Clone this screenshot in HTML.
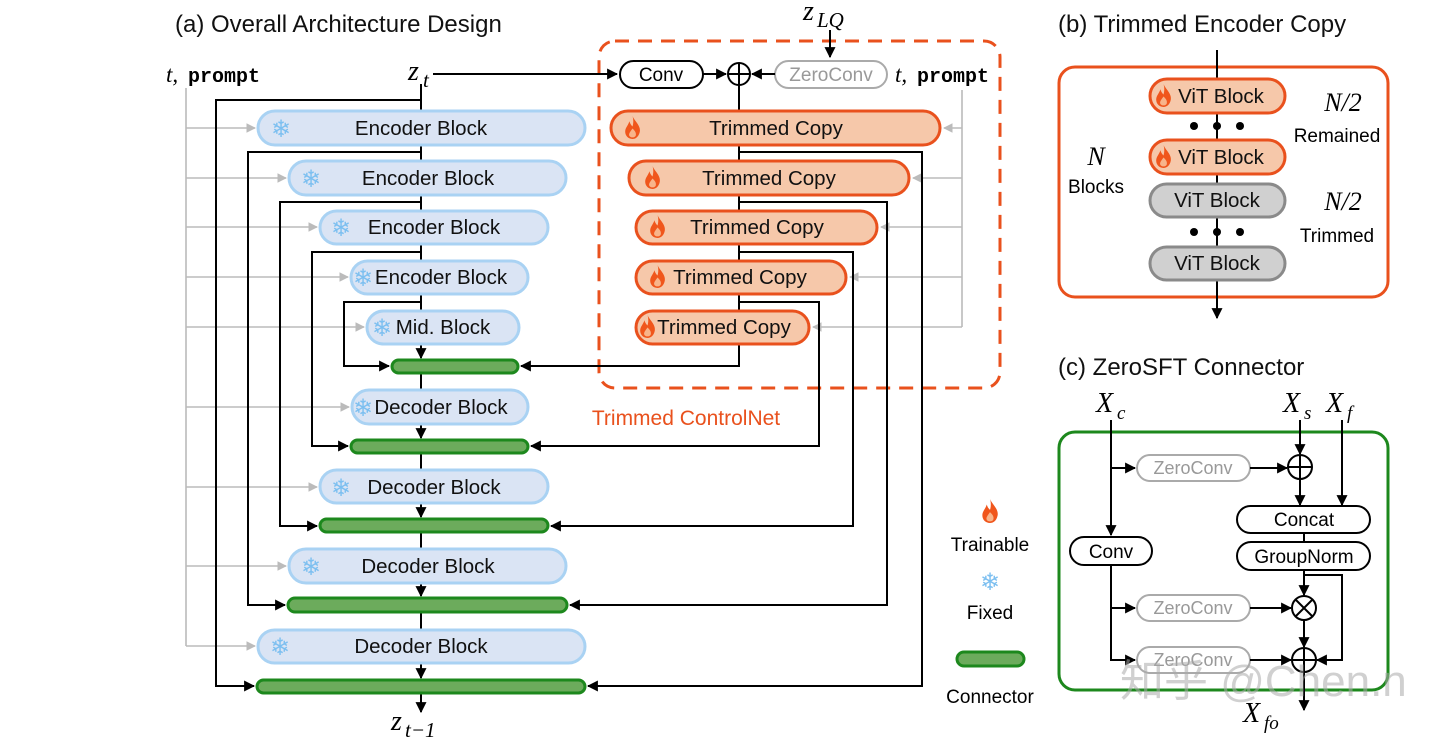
<!DOCTYPE html>
<html><head><meta charset="utf-8"><style>
html,body{margin:0;padding:0;background:#fff;}
svg{display:block;}
text{font-family:"Liberation Sans",sans-serif;}
.m{font-family:"Liberation Serif",serif;font-style:italic;}
.mono{font-family:"Liberation Mono",monospace;font-weight:bold;}
.enc{fill:#dae4f4;stroke:#a9d2f3;stroke-width:3;}
.tr{fill:#f6c8aa;stroke:#e9511d;stroke-width:3;}
.cn{fill:#6cab5c;stroke:#1d881d;stroke-width:3;}
.bk{fill:none;stroke:#000;stroke-width:2;}
.gy{fill:none;stroke:#bbb;stroke-width:1.6;}
.lbl{font-size:20.5px;fill:#111;text-anchor:middle;}
.sn{font-size:24px;fill:#7cbff0;text-anchor:middle;}
</style></head><body>
<svg width="1440" height="738" viewBox="0 0 1440 738" xmlns="http://www.w3.org/2000/svg">
<defs>
<marker id="a" viewBox="0 0 10 10" refX="9" refY="5" markerWidth="5.5" markerHeight="5.5" orient="auto"><path d="M0,0L10,5L0,10z" fill="#000"/></marker>
<marker id="g" viewBox="0 0 10 10" refX="9" refY="5" markerWidth="6" markerHeight="6" orient="auto"><path d="M0,0L10,5L0,10z" fill="#bbb"/></marker>
<symbol id="fl" viewBox="0 0 16 22"><path d="M8,0C10,5 16,9 15,15C14,20 11,22 8,22C4,22 1,19 1,15C1,11 4,9 5,5C6,8 7,9 8,10C9,7 9,3 8,0Z" fill="#f0561c"/><path d="M8,12C10,14 12,16 11,19C10,21 6,21 5,19C4,17 6,15 8,12Z" fill="#f8b48a"/></symbol>
</defs>

<text x="175" y="32" font-size="24" fill="#111">(a) Overall Architecture Design</text>
<text x="1058" y="32" font-size="24" fill="#111">(b) Trimmed Encoder Copy</text>
<text x="1058" y="375" font-size="24" fill="#111">(c) ZeroSFT Connector</text>

<rect x="599" y="41" width="401" height="347" rx="16" fill="none" stroke="#e9511d" stroke-width="3" stroke-dasharray="14,9"/>
<text x="686" y="425" font-size="21" fill="#e9511d" text-anchor="middle">Trimmed ControlNet</text>

<path class="gy" d="M186,88V646"/>
<g class="gy" marker-end="url(#g)">
<path d="M186,128H255"/><path d="M186,178H286"/><path d="M186,227H317"/><path d="M186,277H348"/><path d="M186,327H364"/>
<path d="M186,407H349"/><path d="M186,487H317"/><path d="M186,566H286"/><path d="M186,646H255"/>
</g>
<path class="gy" d="M962,90V327"/>
<g class="gy" marker-end="url(#g)">
<path d="M962,128H944"/><path d="M962,178H913"/><path d="M962,227H881"/><path d="M962,277H850"/><path d="M962,327H813"/>
</g>

<g class="bk" marker-end="url(#a)">
<path d="M421,100H216V686H254"/>
<path d="M421,152H248V605H285"/>
<path d="M421,202H280V526H317"/>
<path d="M421,252H312V446H348"/>
<path d="M421,302H344V366H389"/>
</g>
<g class="bk" marker-end="url(#a)">
<path d="M739,152H922V686H588"/>
<path d="M739,202H887V605H570"/>
<path d="M739,252H853V526H551"/>
<path d="M739,302H819V446H531"/>
<path d="M739,344V366H521"/>
</g>
<path class="bk" d="M739,84V311"/>

<path class="bk" d="M421,84V345"/>
<path class="bk" d="M421,345V358" marker-end="url(#a)"/>
<path class="bk" d="M421,373V390"/>
<path class="bk" d="M421,424V438" marker-end="url(#a)"/>
<path class="bk" d="M421,453V470"/>
<path class="bk" d="M421,503V517" marker-end="url(#a)"/>
<path class="bk" d="M421,532V549"/>
<path class="bk" d="M421,583V596" marker-end="url(#a)"/>
<path class="bk" d="M421,612V630"/>
<path class="bk" d="M421,663V678" marker-end="url(#a)"/>
<path class="bk" d="M421,693V712" marker-end="url(#a)"/>

<text x="408" y="80" font-size="28" class="m">z</text><text x="423" y="87" font-size="21" class="m">t</text>
<path class="bk" d="M433,74H617" marker-end="url(#a)"/>
<text x="391" y="730" font-size="28" class="m">z</text><text x="405" y="737" font-size="21" class="m">t−1</text>
<text x="166" y="82" font-size="23" class="m">t,</text><text x="188" y="82" font-size="20" class="mono">prompt</text>
<text x="895" y="82" font-size="23" class="m">t,</text><text x="917" y="82" font-size="20" class="mono">prompt</text>
<text x="803" y="20" font-size="28" class="m">z</text><text x="817" y="27" font-size="21" class="m">LQ</text>
<path class="bk" d="M830,30V57" marker-end="url(#a)"/>

<rect x="620" y="61" width="83" height="27" rx="13.5" fill="#fff" stroke="#000" stroke-width="2"/>
<text x="661" y="81" font-size="19" text-anchor="middle">Conv</text>
<path class="bk" d="M703,74H726" marker-end="url(#a)"/>
<circle cx="739" cy="74" r="11" fill="#fff" stroke="#000" stroke-width="2"/>
<path class="bk" d="M728,74H750M739,63V85"/>
<rect x="775" y="61" width="112" height="27" rx="13.5" fill="#fff" stroke="#aaa" stroke-width="2"/>
<text x="831" y="81" font-size="19" fill="#999" text-anchor="middle">ZeroConv</text>
<path class="bk" d="M775,74H752" marker-end="url(#a)"/>

<rect class="enc" x="258" y="111" width="327" height="34" rx="17"/><text class="sn" x="281" y="137">❄</text><text class="lbl" x="421" y="135">Encoder Block</text>
<rect class="enc" x="289" y="161" width="277" height="34" rx="17"/><text class="sn" x="311" y="187">❄</text><text class="lbl" x="428" y="185">Encoder Block</text>
<rect class="enc" x="320" y="211" width="228" height="33" rx="16.5"/><text class="sn" x="341" y="236">❄</text><text class="lbl" x="434" y="234">Encoder Block</text>
<rect class="enc" x="351" y="261" width="177" height="33" rx="16.5"/><text class="sn" x="363" y="286">❄</text><text class="lbl" x="441" y="284">Encoder Block</text>
<rect class="enc" x="367" y="311" width="152" height="33" rx="16.5"/><text class="sn" x="382" y="336">❄</text><text class="lbl" x="443" y="334">Mid. Block</text>
<rect class="enc" x="352" y="390" width="176" height="34" rx="17"/><text class="sn" x="363" y="416">❄</text><text class="lbl" x="441" y="414">Decoder Block</text>
<rect class="enc" x="320" y="470" width="228" height="33" rx="16.5"/><text class="sn" x="341" y="496">❄</text><text class="lbl" x="434" y="494">Decoder Block</text>
<rect class="enc" x="289" y="549" width="277" height="34" rx="17"/><text class="sn" x="311" y="575">❄</text><text class="lbl" x="428" y="573">Decoder Block</text>
<rect class="enc" x="258" y="630" width="327" height="33" rx="16.5"/><text class="sn" x="280" y="655">❄</text><text class="lbl" x="421" y="653">Decoder Block</text>
<rect class="cn" x="392" y="360" width="126" height="13" rx="6.5"/>
<rect class="cn" x="351" y="440" width="177" height="13" rx="6.5"/>
<rect class="cn" x="320" y="519" width="228" height="13" rx="6.5"/>
<rect class="cn" x="288" y="598" width="279" height="14" rx="7"/>
<rect class="cn" x="257" y="680" width="328" height="13" rx="6.5"/>

<rect class="tr" x="611" y="111" width="329" height="34" rx="17"/><use href="#fl" x="624" y="116" width="17" height="23"/><text class="lbl" x="776" y="135">Trimmed Copy</text>
<rect class="tr" x="629" y="161" width="280" height="34" rx="17"/><use href="#fl" x="644" y="166" width="17" height="23"/><text class="lbl" x="769" y="185">Trimmed Copy</text>
<rect class="tr" x="636" y="211" width="241" height="33" rx="16.5"/><use href="#fl" x="649" y="215" width="17" height="23"/><text class="lbl" x="757" y="234">Trimmed Copy</text>
<rect class="tr" x="636" y="261" width="210" height="33" rx="16.5"/><use href="#fl" x="649" y="265" width="17" height="23"/><text class="lbl" x="740" y="284">Trimmed Copy</text>
<rect class="tr" x="636" y="311" width="173" height="33" rx="16.5"/><use href="#fl" x="639" y="315" width="17" height="23"/><text class="lbl" x="724" y="334">Trimmed Copy</text>

<use href="#fl" x="981" y="499" width="18" height="24"/>
<text x="990" y="551" font-size="19" text-anchor="middle">Trainable</text>
<text class="sn" x="990" y="590">❄</text>
<text x="990" y="619" font-size="19" text-anchor="middle">Fixed</text>
<rect class="cn" x="957" y="652" width="67" height="14" rx="7"/>
<text x="990" y="703" font-size="19" text-anchor="middle">Connector</text>

<rect x="1059" y="67" width="329" height="230" rx="16" fill="none" stroke="#e9511d" stroke-width="3"/>
<path class="bk" d="M1217,50V318" marker-end="url(#a)"/>
<rect class="tr" x="1150" y="79" width="135" height="34" rx="17"/><use href="#fl" x="1155" y="84" width="17" height="23"/><text class="lbl" x="1221" y="103">ViT Block</text>
<rect class="tr" x="1150" y="140" width="135" height="34" rx="17"/><use href="#fl" x="1155" y="145" width="17" height="23"/><text class="lbl" x="1221" y="164">ViT Block</text>
<rect x="1150" y="184" width="135" height="33" rx="16.5" fill="#d0d0d0" stroke="#8a8a8a" stroke-width="3"/><text class="lbl" x="1217" y="207">ViT Block</text>
<rect x="1150" y="247" width="135" height="33" rx="16.5" fill="#d0d0d0" stroke="#8a8a8a" stroke-width="3"/><text class="lbl" x="1217" y="270">ViT Block</text>
<g fill="#000"><circle cx="1194" cy="126" r="4"/><circle cx="1217" cy="126" r="4"/><circle cx="1240" cy="126" r="4"/>
<circle cx="1194" cy="232" r="4"/><circle cx="1217" cy="232" r="4"/><circle cx="1240" cy="232" r="4"/></g>
<text x="1343" y="111" font-size="26" class="m" text-anchor="middle">N/2</text>
<text x="1337" y="142" font-size="19" text-anchor="middle">Remained</text>
<text x="1096" y="165" font-size="26" class="m" text-anchor="middle">N</text>
<text x="1096" y="193" font-size="19" text-anchor="middle">Blocks</text>
<text x="1343" y="210" font-size="26" class="m" text-anchor="middle">N/2</text>
<text x="1337" y="242" font-size="19" text-anchor="middle">Trimmed</text>

<rect x="1059" y="432" width="329" height="258" rx="16" fill="none" stroke="#1d881d" stroke-width="3"/>
<text x="1096" y="412" font-size="28" class="m">X</text><text x="1117" y="419" font-size="19" class="m">c</text>
<text x="1283" y="412" font-size="28" class="m">X</text><text x="1304" y="419" font-size="19" class="m">s</text>
<text x="1326" y="412" font-size="28" class="m">X</text><text x="1347" y="419" font-size="19" class="m">f</text>
<text x="1243" y="722" font-size="28" class="m">X</text><text x="1264" y="729" font-size="19" class="m">fo</text>
<path class="bk" d="M1111,420V535" marker-end="url(#a)"/>
<path class="bk" d="M1111,468H1135" marker-end="url(#a)"/>
<rect x="1137" y="455" width="113" height="26" rx="13" fill="#fff" stroke="#aaa" stroke-width="2"/><text x="1193" y="474" font-size="18" fill="#999" text-anchor="middle">ZeroConv</text>
<path class="bk" d="M1250,468H1287" marker-end="url(#a)"/>
<circle cx="1300" cy="467" r="12" fill="#fff" stroke="#000" stroke-width="2"/><path class="bk" d="M1288,467H1312M1300,455V479"/>
<path class="bk" d="M1300,420V454" marker-end="url(#a)"/>
<path class="bk" d="M1300,479V505" marker-end="url(#a)"/>
<path class="bk" d="M1342,420V505" marker-end="url(#a)"/>
<rect x="1237" y="506" width="133" height="27" rx="13.5" fill="#fff" stroke="#000" stroke-width="2"/><text x="1304" y="526" font-size="19" text-anchor="middle">Concat</text>
<path class="bk" d="M1304,533V542"/>
<rect x="1237" y="542" width="133" height="28" rx="14" fill="#fff" stroke="#000" stroke-width="2"/><text x="1304" y="563" font-size="19" text-anchor="middle">GroupNorm</text>
<rect x="1070" y="537" width="82" height="28" rx="14" fill="#fff" stroke="#000" stroke-width="2"/><text x="1111" y="558" font-size="19" text-anchor="middle">Conv</text>
<path class="bk" d="M1111,565V660H1135" marker-end="url(#a)"/>
<path class="bk" d="M1111,608H1135" marker-end="url(#a)"/>
<rect x="1137" y="595" width="113" height="26" rx="13" fill="#fff" stroke="#aaa" stroke-width="2"/><text x="1193" y="614" font-size="18" fill="#999" text-anchor="middle">ZeroConv</text>
<rect x="1137" y="647" width="113" height="26" rx="13" fill="#fff" stroke="#aaa" stroke-width="2"/><text x="1193" y="666" font-size="18" fill="#999" text-anchor="middle">ZeroConv</text>
<path class="bk" d="M1250,608H1291" marker-end="url(#a)"/>
<path class="bk" d="M1250,660H1291" marker-end="url(#a)"/>
<path class="bk" d="M1304,570V595" marker-end="url(#a)"/>
<path class="bk" d="M1304,575H1342V660H1317" marker-end="url(#a)"/>
<circle cx="1304" cy="608" r="12" fill="#fff" stroke="#000" stroke-width="2"/><path class="bk" d="M1296,600L1312,616M1312,600L1296,616"/>
<path class="bk" d="M1304,620V647" marker-end="url(#a)"/>
<circle cx="1304" cy="660" r="12" fill="#fff" stroke="#000" stroke-width="2"/><path class="bk" d="M1292,660H1316M1304,648V672"/>
<path class="bk" d="M1304,672V710" marker-end="url(#a)"/>
<text x="1120" y="696" font-size="44" fill="#aaa" fill-opacity="0.55" font-family="'Liberation Sans','Noto Sans CJK SC',sans-serif">知乎 @Chen.n</text>
</svg>
</body></html>
